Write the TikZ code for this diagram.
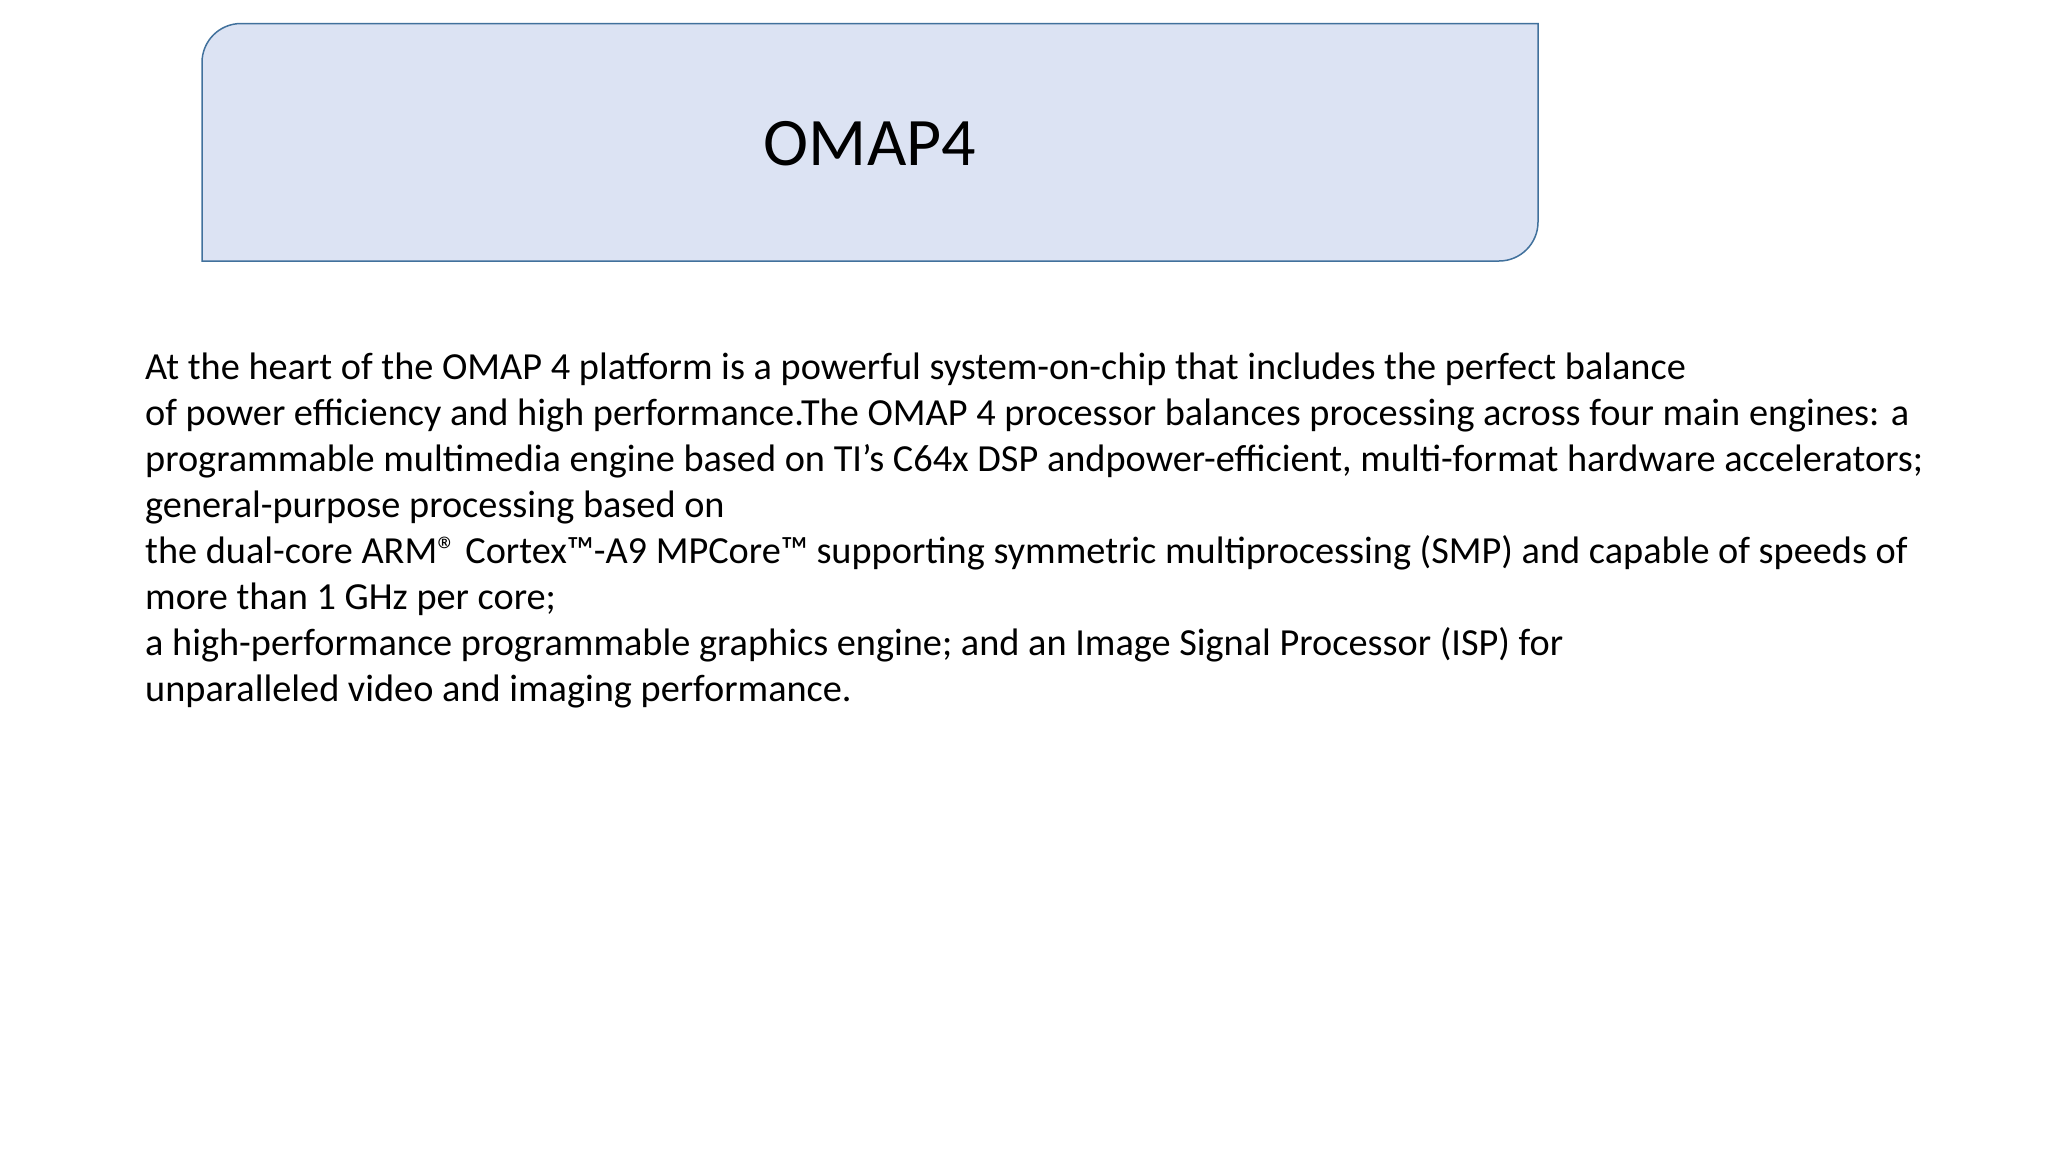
\documentclass[tikz,border=0pt]{standalone}
\usepackage{fontspec}
\setmainfont{Carlito}
\definecolor{boxfill}{HTML}{DCE3F3}
\definecolor{boxline}{HTML}{41719C}
\begin{document}
\begin{tikzpicture}[x=1pt,y=1pt,
  bodyline/.style={anchor=base west,inner sep=0pt,font=\fontsize{38.3}{46}\selectfont}]
\useasboundingbox (0,0) rectangle (2048,-1152);
\draw[boxline,fill=boxfill,line width=1.5pt]
  (241,-23.5) -- (1538,-23.5) -- (1538,-222) arc[start angle=0,end angle=-90,radius=39] -- (202,-261) -- (202,-62.5) arc[start angle=180,end angle=90,radius=39] -- cycle;
\node[inner sep=0pt,font=\fontsize{68}{70}\selectfont] (title) at (870,-144) {OMAP4};
\node[bodyline] (l1) at (145,-379) {At the heart of the OMAP 4 platform is a powerful system-on-chip that includes the perfect balance};
\node[bodyline] (l2) at (145,-425) {of power efficiency and high performance.The OMAP 4 processor balances processing across four main engines: a};
\node[bodyline] (l3) at (145,-471) {programmable multimedia engine based on TI’s C64x DSP andpower-efficient, multi-format hardware accelerators;};
\node[bodyline] (l4) at (145,-517) {general-purpose processing based on};
\node[bodyline] (l5) at (145,-563) {the dual-core ARM® Cortex™-A9 MPCore™ supporting symmetric multiprocessing (SMP) and capable of speeds of};
\node[bodyline] (l6) at (145,-609) {more than 1 GHz per core;};
\node[bodyline] (l7) at (145,-655) {a high-performance programmable graphics engine; and an Image Signal Processor (ISP) for};
\node[bodyline] (l8) at (145,-701) {unparalleled video and imaging performance.};
\end{tikzpicture}
\end{document}
